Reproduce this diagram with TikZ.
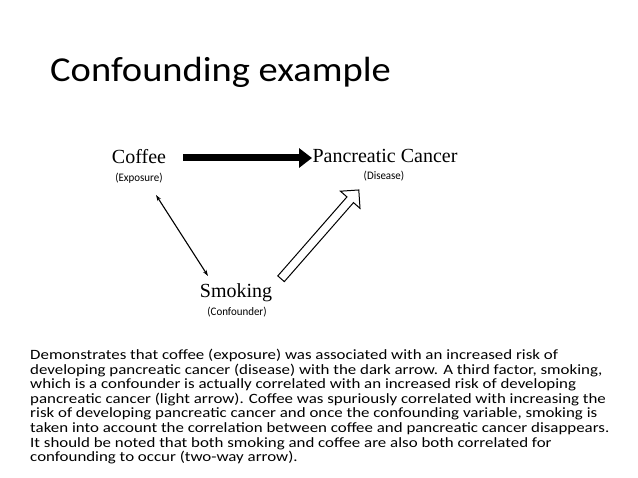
\documentclass[tikz,border=0pt]{standalone}
\usepackage{fontspec}
\setmainfont{Carlito}
\newfontfamily\serifdg{Liberation Serif}
\usetikzlibrary{arrows.meta,shapes.arrows}
\begin{document}
\begin{tikzpicture}[x=1pt,y=-1pt,
  lbl/.style={font=\serifdg\fontsize{20}{22}\selectfont, inner sep=0pt},
  sub/.style={font=\fontsize{11.5}{13}\selectfont, inner sep=0pt, xscale=0.95, transform shape}]
\useasboundingbox (0,0) rectangle (638,478);
\node[anchor=west, font=\fontsize{35}{38}\selectfont, inner sep=0pt, xscale=1.1, transform shape] (title) at (50,72) {Confounding example};
\node[lbl] (coffee) at (139,157) {Coffee};
\node[sub] (exp) at (139,178) {(Exposure)};
\node[lbl] (pc) at (385,156) {Pancreatic Cancer};
\node[sub] (dis) at (384,176) {(Disease)};
\node[lbl] (smk) at (236,293) {Smoking};
\node[sub] (conf) at (237,312) {(Confounder)};
\coordinate (a1) at (183,158); \coordinate (a2) at (312,158);
\draw[line width=7pt, -{Triangle[length=13pt 0 0,width=19pt 0 0]}] (a1) -- (a2);
\coordinate (b1) at (156,195); \coordinate (b2) at (208,276);
\draw[line width=1.1pt, {Stealth[length=6pt 0 0,width=4pt 0 0]}-{Stealth[length=6pt 0 0,width=4pt 0 0]}] (b1) -- (b2);
\node[single arrow, draw, line width=1pt, fill=white, minimum height=118pt, minimum width=26pt,
  single arrow head extend=5pt, inner sep=2pt, rotate=48.8] (hollow) at (318.5,236) {};
\node[anchor=north west, align=left, inner sep=0pt, xscale=1.19, transform shape, font=\fontsize{14.2}{14.6}\selectfont] (body) at (30,349) {%
Demonstrates that coffee (exposure) was associated with an increased risk of\\
developing pancreatic cancer (disease) with the dark arrow. A third factor, smoking,\\
which is a confounder is actually correlated with an increased risk of developing\\
pancreatic cancer (light arrow). Coffee was spuriously correlated with increasing the\\
risk of developing pancreatic cancer and once the confounding variable, smoking is\\
taken into account the correlation between coffee and pancreatic cancer disappears.\\
It should be noted that both smoking and coffee are also both correlated for\\
confounding to occur (two-way arrow).};
\end{tikzpicture}
\end{document}
